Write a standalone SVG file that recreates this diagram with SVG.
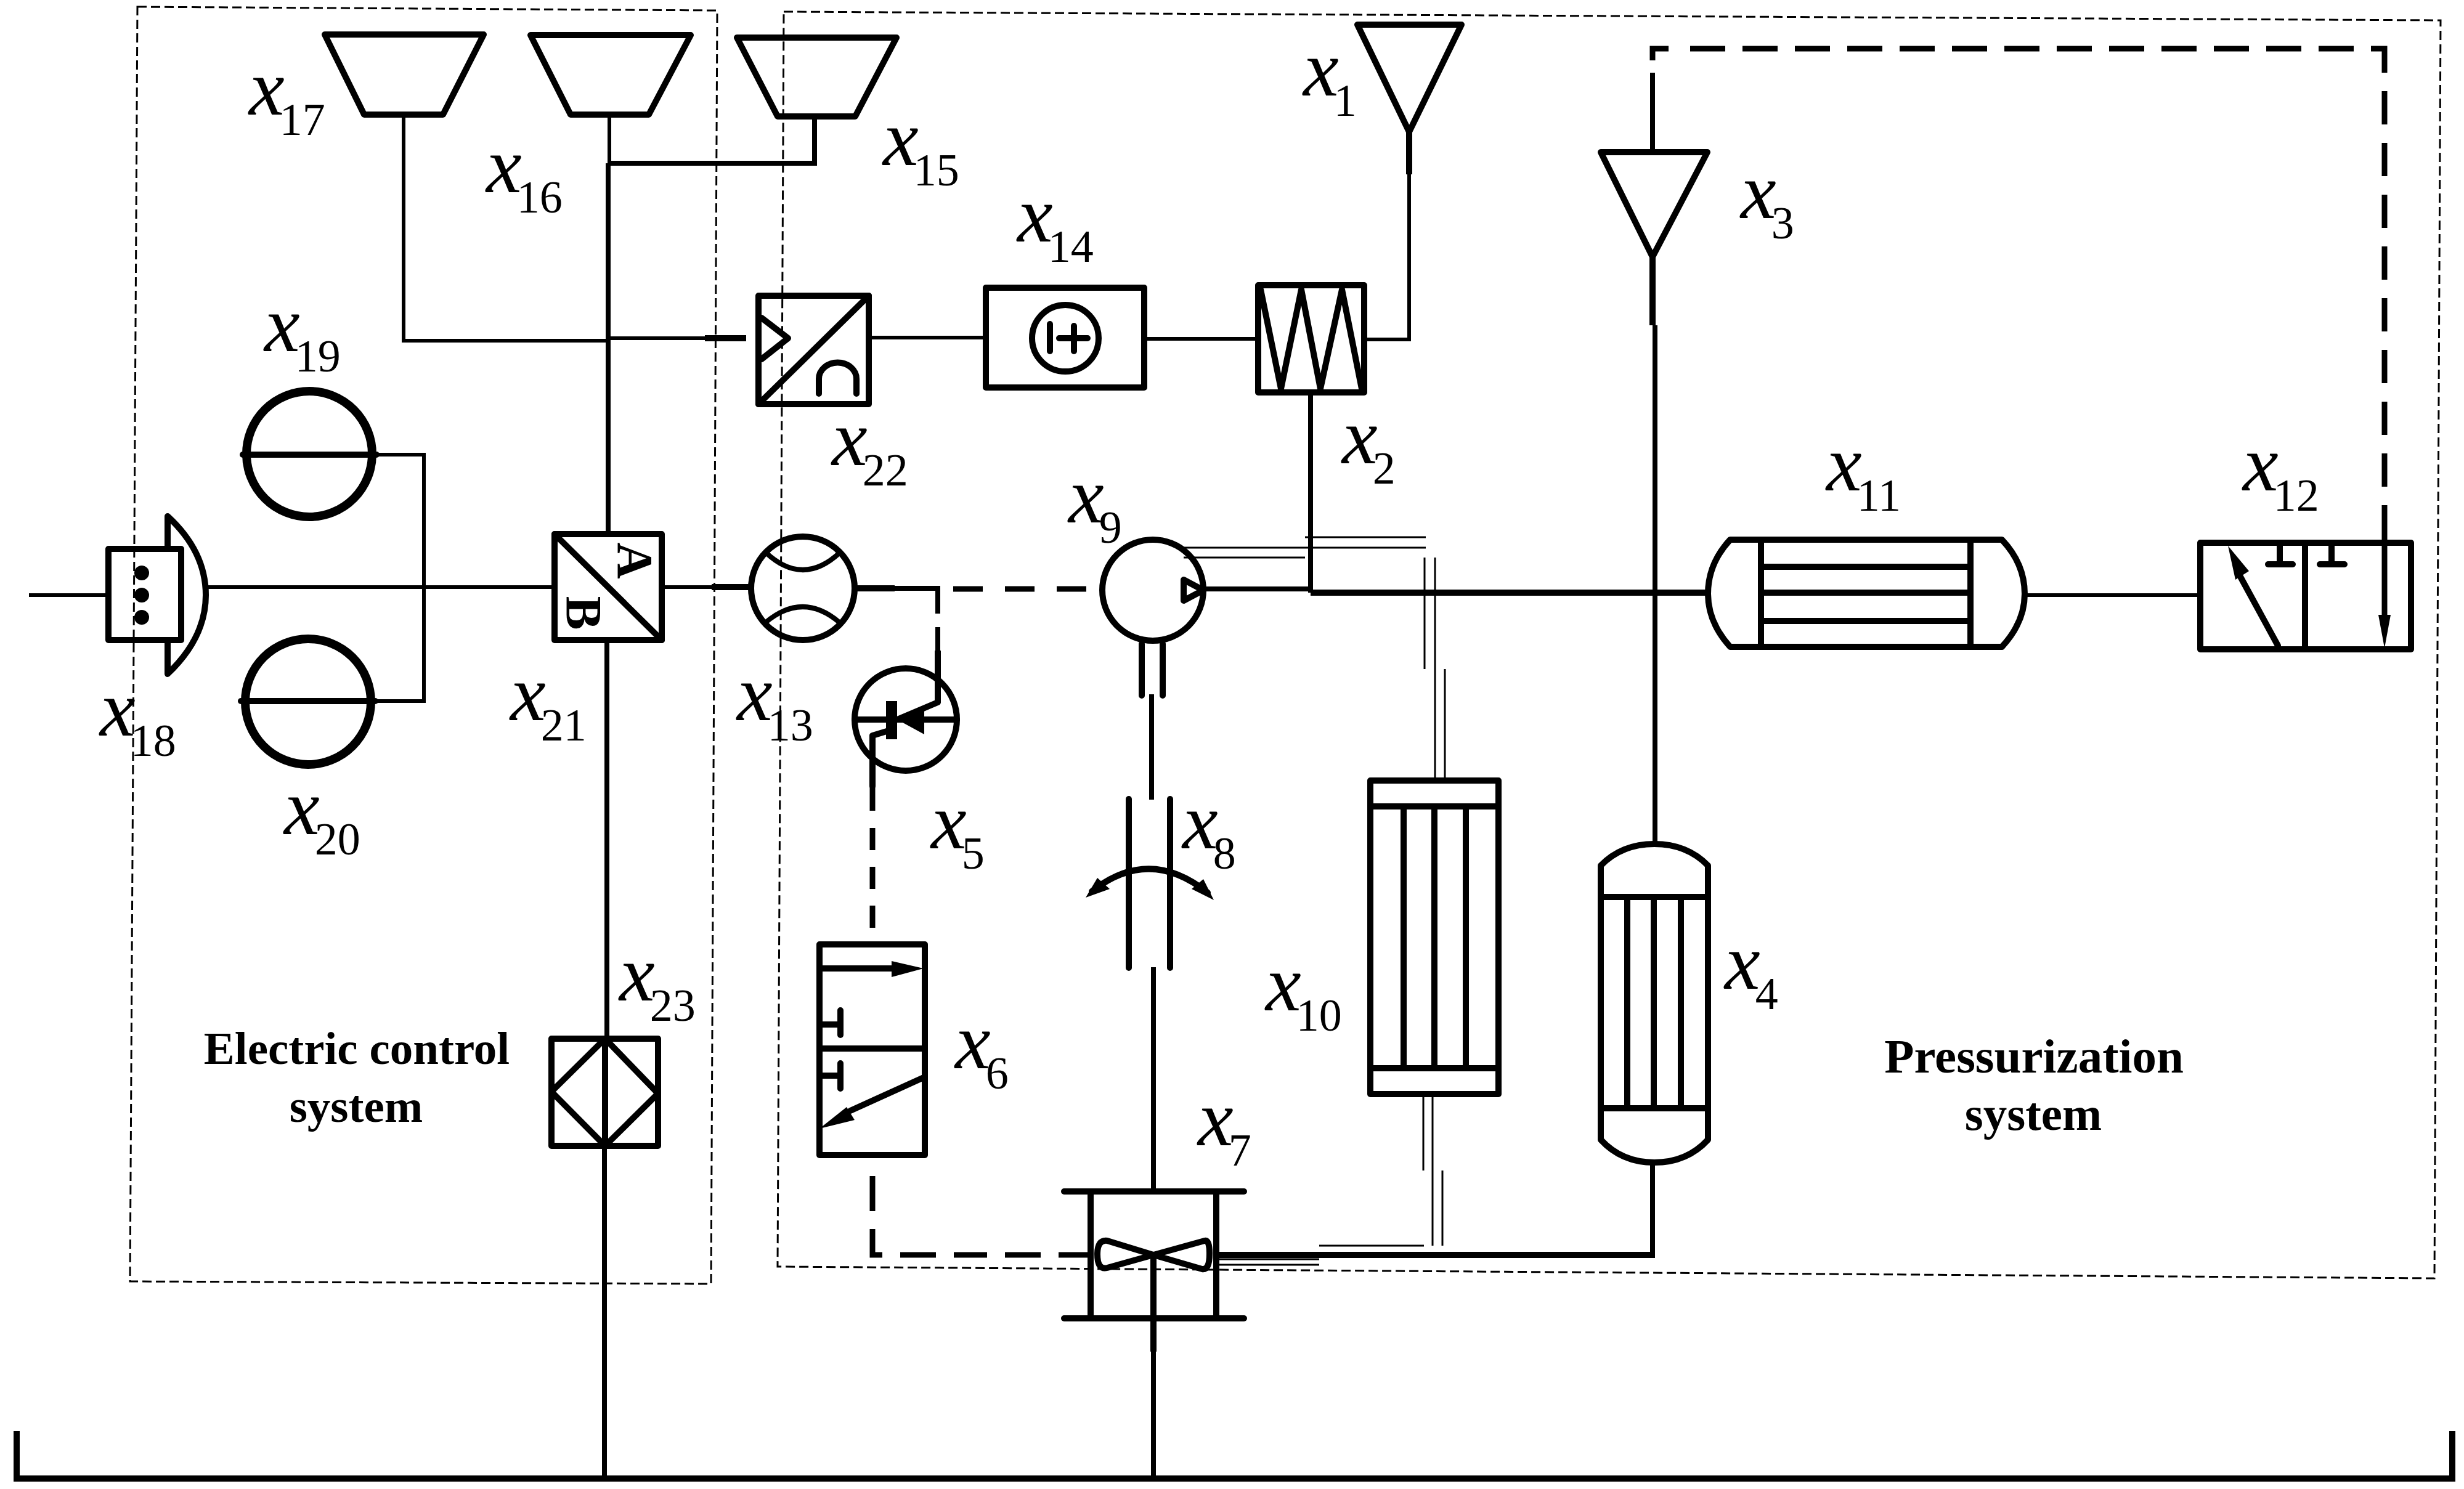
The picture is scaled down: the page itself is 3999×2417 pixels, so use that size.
<svg xmlns="http://www.w3.org/2000/svg" width="3999" height="2417" viewBox="0 0 3999 2417">
<style>
text{font-family:"Liberation Serif","Times New Roman",serif;fill:#000}
.l{font-size:130px;font-style:italic}
.s{font-size:74px;font-style:normal}
.h{font-size:75px;font-weight:bold;text-anchor:middle}
.r{font-size:82px;font-weight:bold;text-anchor:middle}
.n,.n *{fill:none;stroke:#000;stroke-width:10;stroke-linecap:round;stroke-linejoin:round}
.f{fill:#000!important;stroke:none!important}
.c path{fill:none;stroke:#000;stroke-width:6}
.m{stroke-width:8!important}
.k{stroke-width:10!important}
.t{stroke-width:3!important}
.d{stroke-width:9!important}
.b{fill:none;stroke:#000;stroke-width:3;stroke-dasharray:15 7}
</style>
<rect width="3999" height="2417" fill="#fff"/>
<g id="boundaries">
<path class="b" d="M223 11L1164 17L1154 2084L211 2080Z"/>
<path class="b" d="M1272 19L3961 33L3951 2075L1262 2056Z"/>
</g>
<g id="connectors" class="c">
<path d="M47 966H176"/>
<path d="M334 953H898"/>
<path d="M611 738H688V1138H609"/>
<path d="M655 186V553H987"/>
<path d="M989 186V265"/>
<path class="m" d="M987 265H1322V189"/>
<path class="m" d="M987 265V867"/>
<path d="M987 549H1150"/>
<path class="k" d="M1144 549H1211"/>
<path class="m" d="M985 1039V1686"/>
<path class="m" d="M981 1860V2400"/>
<path d="M1074 953H1160"/>
<path class="k" d="M1155 953H1216"/>
<path d="M1412 548H1600"/>
<path d="M1857 550H2042"/>
<path d="M2214 551H2287V283"/>
<path class="k" d="M2287 283V214"/>
<path class="m" d="M2127 637V962"/>
<path class="m" d="M1957 956H2127"/>
<path class="k" d="M2127 962H2772"/>
<path d="M3286 966H3571"/>
<path class="k" d="M1390 955H1452"/>
<path class="m" d="M1452 955H1522V996"/>
<path class="d" stroke-dasharray="48 36" d="M1547 956H1783"/>
<path class="m" d="M1522 1018V1060"/>
<path class="k" d="M1522 1056V1140"/>
<path class="d" d="M1416 1276V1316"/>
<path class="d" stroke-dasharray="36 27" d="M1416 1344V1511"/>
<path class="d" d="M1416 1909V1966M1416 1995V2037H1432M1461 2037H1519M1548 2037H1602M1631 2037H1689M1718 2037H1768"/>
<path class="m" d="M1869 1127V1298"/>
<path class="m" d="M1872 1570V1934"/>
<path class="k" d="M1872 2037V2194"/>
<path class="m" d="M1872 2194V2400"/>
<path class="k" d="M1974 2037H2682"/>
<path class="m" d="M2682 2042V1887"/>
<path class="m" d="M2686 528V1370"/>
<path class="k" d="M2682 417V528"/>
<path class="m" d="M2682 247V118"/>
<path class="d" d="M2682 98V79H2708M2743 79H2800M2828 79H2885M2913 79H2970M2998 79H3055M3083 79H3140M3168 79H3225M3253 79H3310M3338 79H3395M3423 79H3480M3508 79H3565M3593 79H3650M3678 79H3735M3763 79H3820M3848 79H3870V118M3870 148V202M3870 232V286M3870 316V370M3870 400V454M3870 484V538M3870 568V622M3870 652V706M3870 736V790M3870 820V1010"/>
<path class="t" d="M2118 872H2314M1921 889H2314M1921 905H2118"/>
<path class="t" d="M2312 905V1086M2329 905V1262M2345 1086V1262"/>
<path class="t" d="M2310 1778V1900M2325 1778V2022M2341 1900V2022"/>
<path class="t" d="M2141 2022H2311M1978 2044H2141M1978 2053H2141"/>
<path class="k" d="M27 2323V2400H3980V2323"/>
</g>
<g id="x1" class="n"><path d="M2203 40H2372L2287 214Z"/></g>
<g id="x2" class="n"><rect x="2042" y="463" width="172" height="174"/><path d="M2046 470L2079 631L2112 470L2143 631L2178 470L2210 631"/></g>
<g id="x3" class="n"><path d="M2598 247H2771L2682 417Z"/></g>
<g id="x4" class="n"><path d="M2598 1405Q2632 1370 2685 1370Q2738 1370 2772 1405V1850Q2738 1887 2685 1887Q2632 1887 2598 1850Z"/><path d="M2598 1456H2772M2598 1799H2772M2641 1456V1799M2684 1456V1799M2728 1456V1799"/></g>
<g id="x5" class="n"><circle cx="1470" cy="1168" r="83"/><path d="M1387 1168H1439M1456 1168H1553M1522 1140L1456 1168M1439 1187L1416 1194V1276"/><rect class="f" x="1438" y="1138" width="18" height="62"/><polygon class="f" points="1456,1168 1500,1148 1500,1192"/></g>
<g id="x6" class="n"><rect x="1330" y="1533" width="171" height="342"/><path d="M1330 1702H1501M1330 1572H1460M1330 1663H1364M1364 1640V1680M1330 1746H1364M1364 1726V1767M1499 1749L1380 1803"/><polygon class="f" points="1499,1572 1447,1560 1447,1586"/><polygon class="f" points="1330,1832 1374,1797 1387,1818"/></g>
<g id="x7" class="n"><path d="M1727 1934H2019M1727 2140H2019M1770 1934V2140M1974 1934V2140"/><path d="M1872 2037L1797 2014Q1781 2012 1781 2036Q1781 2062 1797 2058L1872 2037L1951 2060Q1963 2062 1963 2035Q1963 2012 1955 2014Z"/></g>
<g id="x8" class="n"><path d="M1832 1297V1571M1899 1297V1571"/><path d="M1772 1447Q1865 1373 1960 1449"/><polygon class="f" points="1762,1457 1781,1425 1801,1443"/><polygon class="f" points="1970,1461 1953,1427 1934,1443"/></g>
<g id="x9" class="n"><circle cx="1871" cy="958" r="82"/><path d="M1921 941V975L1953 958Z"/><path d="M1853 1045V1129M1887 1045V1129"/></g>
<g id="x10" class="n"><rect x="2224" y="1267" width="208" height="509"/><path d="M2224 1309H2432M2224 1734H2432M2278 1309V1734M2328 1309V1734M2379 1309V1734"/></g>
<g id="x11" class="n"><path d="M2808 876H3249Q3286 915 3286 964Q3286 1010 3249 1050H2808Q2772 1010 2772 964Q2772 915 2808 876Z"/><path d="M2858 876V1050M3198 876V1050M2858 920H3198M2858 962H3198M2858 1008H3198"/></g>
<g id="x12" class="n"><rect x="3571" y="881" width="342" height="173"/><path d="M3741 881V1054M3697 1048L3630 925M3700 881V916M3681 916H3721M3784 881V916M3765 916H3805"/><polygon class="f" points="3616,886 3628,941 3650,927"/><polygon class="f" points="3870,1052 3860,998 3880,998"/></g>
<g id="x13" class="n"><circle cx="1303" cy="955" r="84"/><path d="M1243 897Q1303 953 1363 897M1243 1010Q1303 960 1362 1010" style="stroke-width:8"/></g>
<g id="x14" class="n"><rect x="1600" y="467" width="257" height="162"/><ellipse cx="1729" cy="549" rx="54" ry="54"/><path d="M1704 526V570M1719 549H1765M1743 529V570"/></g>
<g id="x15" class="n"><path d="M1196 61H1455L1388 189H1262Z"/></g>
<g id="x16" class="n"><path d="M861 57H1121L1053 186H926Z"/></g>
<g id="x17" class="n"><path d="M527 56H785L719 186H591Z"/></g>
<g id="x18" class="n"><rect x="176" y="891" width="118" height="148"/><path d="M272 891V838Q334 895 334 966Q334 1035 272 1094V1039"/><circle class="f" cx="230" cy="930" r="12"/><circle class="f" cx="230" cy="966" r="12"/><circle class="f" cx="230" cy="1002" r="12"/></g>
<g id="x19" class="n"><circle cx="502" cy="737" r="102" style="stroke-width:14"/><path d="M394 738H611"/></g>
<g id="x20" class="n"><circle cx="500" cy="1139" r="102" style="stroke-width:14"/><path d="M391 1138H609"/></g>
<g id="x21" class="n"><rect x="900" y="867" width="174" height="172"/><path d="M900 867L1074 1039"/></g>
<g id="x22" class="n"><rect x="1231" y="480" width="179" height="176"/><path d="M1410 480L1231 656M1236 516L1279 549L1236 583M1329 639V615A30 26 0 0 1 1390 615V639"/></g>
<g id="x23" class="n"><rect x="895" y="1686" width="173" height="174"/><path d="M982 1686L1068 1775L982 1860L895 1772ZM982 1686V1860"/></g>
<g id="labels">
<text class="l" x="2115" y="155">x<tspan class="s" dx="-8" dy="33">1</tspan></text>
<text class="l" x="2178" y="752">x<tspan class="s" dx="-8" dy="33">2</tspan></text>
<text class="l" x="2825" y="354">x<tspan class="s" dx="-8" dy="33">3</tspan></text>
<text class="l" x="2799" y="1605">x<tspan class="s" dx="-8" dy="33">4</tspan></text>
<text class="l" x="1511" y="1377">x<tspan class="s" dx="-8" dy="33">5</tspan></text>
<text class="l" x="1550" y="1734">x<tspan class="s" dx="-8" dy="33">6</tspan></text>
<text class="l" x="1944" y="1859">x<tspan class="s" dx="-8" dy="33">7</tspan></text>
<text class="l" x="1919" y="1377">x<tspan class="s" dx="-8" dy="33">8</tspan></text>
<text class="l" x="1734" y="848">x<tspan class="s" dx="-8" dy="33">9</tspan></text>
<text class="l" x="2054" y="1640">x<tspan class="s" dx="-8" dy="33">10</tspan></text>
<text class="l" x="2964" y="796">x<tspan class="s" dx="-8" dy="33">11</tspan></text>
<text class="l" x="3640" y="796">x<tspan class="s" dx="-8" dy="33">12</tspan></text>
<text class="l" x="1196" y="1169">x<tspan class="s" dx="-8" dy="33">13</tspan></text>
<text class="l" x="1651" y="392">x<tspan class="s" dx="-8" dy="33">14</tspan></text>
<text class="l" x="1433" y="268">x<tspan class="s" dx="-8" dy="33">15</tspan></text>
<text class="l" x="789" y="312">x<tspan class="s" dx="-8" dy="33">16</tspan></text>
<text class="l" x="404" y="186">x<tspan class="s" dx="-8" dy="33">17</tspan></text>
<text class="l" x="162" y="1194">x<tspan class="s" dx="-8" dy="33">18</tspan></text>
<text class="l" x="429" y="570">x<tspan class="s" dx="-8" dy="33">19</tspan></text>
<text class="l" x="461" y="1354">x<tspan class="s" dx="-8" dy="33">20</tspan></text>
<text class="l" x="828" y="1169">x<tspan class="s" dx="-8" dy="33">21</tspan></text>
<text class="l" x="1350" y="755">x<tspan class="s" dx="-8" dy="33">22</tspan></text>
<text class="l" x="1005" y="1624">x<tspan class="s" dx="-8" dy="33">23</tspan></text>
<text class="r" transform="translate(1003 910) rotate(90)">A</text>
<text class="r" transform="translate(920 995) rotate(90)">B</text>
<text class="h" x="579" y="1727">Electric control</text>
<text class="h" x="578" y="1821">system</text>
<text class="h" x="3301" y="1741" style="font-size:79px">Pressurization</text>
<text class="h" x="3300" y="1834" style="font-size:77px">system</text>
</g>
</svg>
